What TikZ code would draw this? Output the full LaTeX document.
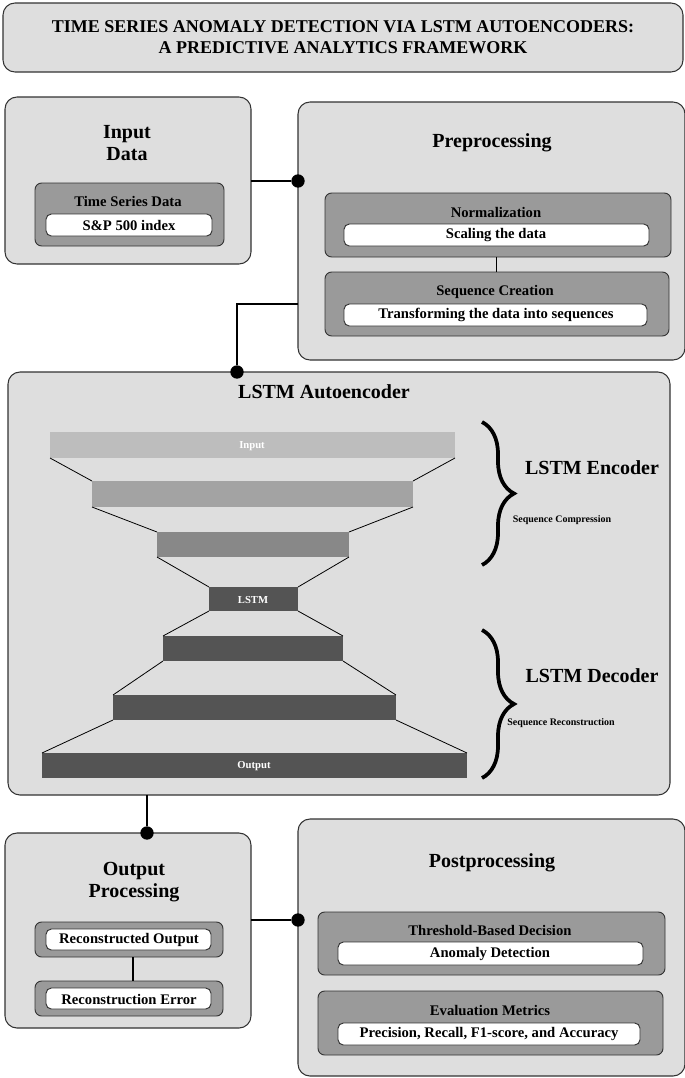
\documentclass[tikz,border=0pt]{standalone}
\usepackage{fontspec}
\setmainfont{Liberation Serif}
\usetikzlibrary{decorations.pathreplacing}
\definecolor{boxbg}{HTML}{DEDEDE}
\definecolor{inner}{HTML}{9A9A9A}
\definecolor{b1}{HTML}{BDBDBD}
\definecolor{b2}{HTML}{A3A3A3}
\definecolor{b3}{HTML}{888888}
\definecolor{b4}{HTML}{545454}
\tikzset{
 big/.style={draw=black!80, fill=boxbg, rounded corners=9pt, line width=0.8pt},
 dark/.style={draw=black!80, fill=inner, rounded corners=5pt, line width=0.7pt},
 white/.style={draw=black!80, fill=white, rounded corners=4pt, line width=0.7pt},
 conn/.style={line width=1.3pt},
 dot/.style={circle, fill=black, inner sep=0pt, minimum size=10pt},
 ttl/.style={font=\bfseries\fontsize{15}{17}\selectfont, align=center},
 lbl/.style={font=\bfseries\fontsize{11}{13}\selectfont},
 barlbl/.style={font=\bfseries\fontsize{8}{9}\selectfont, text=white},
 trap/.style={line width=0.6pt},
 brc/.style={decoration={brace, amplitude=24pt}, decorate, line width=2.8pt},
 side/.style={font=\bfseries\fontsize{15}{17}\selectfont},
 sides/.style={font=\bfseries\fontsize{7.5}{9}\selectfont}
}
\begin{document}
\begin{tikzpicture}[x=0.75pt,y=-0.75pt]
\useasboundingbox (0,0) rectangle (685,1078);
% title
\draw[big] (3,3) rectangle (683,72);
\node[font=\bfseries\fontsize{13.5}{16}\selectfont, align=center] (title) at (343,37) {TIME SERIES ANOMALY DETECTION VIA LSTM AUTOENCODERS:\\A PREDICTIVE ANALYTICS FRAMEWORK};
% input data
\draw[big] (5,97) rectangle (251,264);
\node[ttl] (inT) at (127,143) {Input\\Data};
\draw[dark] (35,183) rectangle (224,246);
\node[lbl] (tsd) at (128,201) {Time Series Data};
\draw[white] (46,214) rectangle (212,236);
\node[lbl] (sp) at (129,225) {S\&P 500 index};
\coordinate (inR) at (251,181);
% preprocessing
\draw[big] (298,102) rectangle (685,360);
\node[ttl] (preT) at (492,143) {Preprocessing};
\draw[dark] (325,193) rectangle (671,257);
\node[lbl] (norm) at (496,212) {Normalization};
\draw[white] (344,224) rectangle (649,246);
\node[lbl] (scal) at (496,235) {Scaling the data};
\draw[dark] (325,272) rectangle (669,336);
\node[lbl] (seqc) at (495,292) {Sequence Creation};
\draw[white] (344,304) rectangle (647,326);
\node[lbl] (trans) at (496,315) {Transforming the data into sequences};
\draw[line width=0.6pt] (496,257) -- (496,272);
\coordinate (preL) at (298,181);
\node[dot] (d1) at (preL) {};
\draw[conn] (inR) -- (d1);
\coordinate (preL2) at (298,304);
% LSTM
\draw[big] (8,372) rectangle (670,795);
\node[dot] (d2) at (237,372) {};
\draw[conn] (preL2) -- (237,304) -- (d2);
\node[ttl] (lT) at (324,392) {LSTM Autoencoder};
\fill[b1] (50,432) rectangle (455,458);
\node[barlbl] (bi) at (252,446) {Input};
\fill[b2] (92,481) rectangle (413,507);
\fill[b3] (157,532) rectangle (349,557);
\fill[b4] (209,587) rectangle (298,611);
\node[barlbl] (bl) at (253,600) {LSTM};
\fill[b4] (163,636) rectangle (343,661);
\fill[b4] (113,695) rectangle (396,720);
\fill[b4] (42,753) rectangle (467,778);
\node[barlbl] (bo) at (254,766) {Output};
\draw[trap] (50,458) -- (92,481) (455,458) -- (413,481);
\draw[trap] (92,507) -- (157,532) (413,507) -- (349,532);
\draw[trap] (157,557) -- (209,587) (349,557) -- (298,587);
\draw[trap] (209,611) -- (163,636) (298,611) -- (343,636);
\draw[trap] (163,661) -- (113,695) (343,661) -- (396,695);
\draw[trap] (113,720) -- (42,753) (396,720) -- (467,753);
\draw[brc] (482,422) -- (482,565);
\draw[brc] (482,630) -- (482,778);
\node[side] (enc) at (592,468) {LSTM Encoder};
\node[sides] (encs) at (562,520) {Sequence Compression};
\node[side] (dec) at (592,676) {LSTM Decoder};
\node[sides] (decs) at (561,723) {Sequence Reconstruction};
% output processing
\draw[big] (5,833) rectangle (251,1028);
\node[dot] (d3) at (147,833) {};
\draw[conn] (147,795) -- (d3);
\node[ttl] (oT) at (134,882) {Output\\Processing};
\draw[dark] (35,922) rectangle (223,957);
\draw[white] (46,929) rectangle (211,950);
\node[lbl] (ro) at (129,940) {Reconstructed Output};
\draw[dark] (35,981) rectangle (223,1016);
\draw[white] (46,988) rectangle (211,1009);
\node[lbl] (re) at (129,999) {Reconstruction Error};
\draw[conn] (133,957) -- (133,981);
% postprocessing
\draw[big] (298,819) rectangle (685,1076);
\node[ttl] (poT) at (492,863) {Postprocessing};
\draw[dark] (318,912) rectangle (665,975);
\node[lbl] (thr) at (490,930) {Threshold-Based Decision};
\draw[white] (338,942) rectangle (643,965);
\node[lbl] (ad) at (490,954) {Anomaly Detection};
\draw[dark] (318,991) rectangle (663,1055);
\node[lbl] (em) at (490,1010) {Evaluation Metrics};
\draw[white] (338,1023) rectangle (640,1045);
\node[lbl] (pr) at (489,1034) {Precision, Recall, F1-score, and Accuracy};
\node[dot] (d4) at (298,920) {};
\draw[conn] (251,920) -- (d4);
\end{tikzpicture}
\end{document}
